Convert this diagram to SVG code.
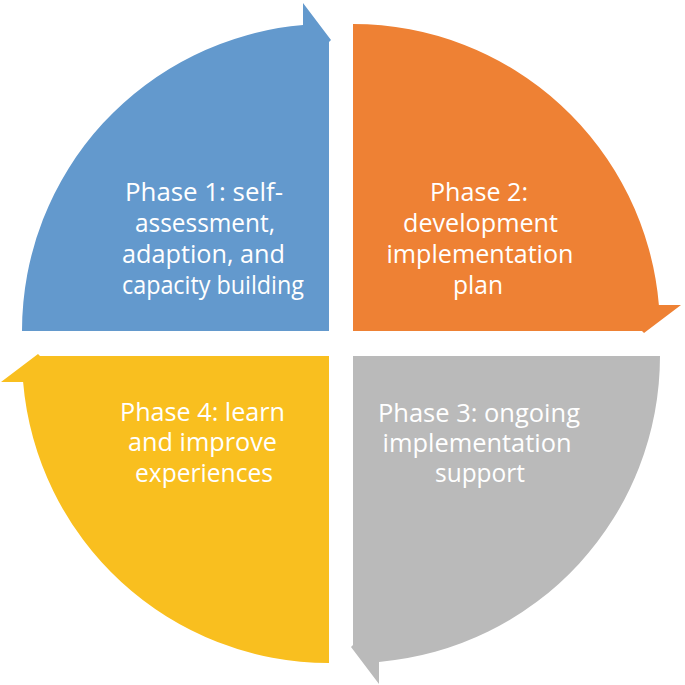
<svg xmlns="http://www.w3.org/2000/svg" xmlns:xlink="http://www.w3.org/1999/xlink" width="685" height="685" viewBox="0 0 685 685">
<style>
.lbl{font-family:"Open Sans","Noto Sans","Liberation Sans",sans-serif;font-size:25px;fill:#ffffff;text-anchor:middle}
</style>
<defs>
<path id="q" d="M0,0 L-307,0 A307,307 0 0 1 -26,-305.9 L-26,-328 L2,-291 L0,-289 Z"/>
</defs>
<rect width="685" height="685" fill="#ffffff"/>
<g id="phase1">
<use xlink:href="#q" href="#q" transform="translate(329,331)" fill="#6399CD"/>
<text class="lbl" x="204" y="201" textLength="158" lengthAdjust="spacingAndGlyphs">Phase 1: self-</text>
<text class="lbl" x="205" y="232" textLength="140" lengthAdjust="spacingAndGlyphs">assessment,</text>
<text class="lbl" x="203.5" y="263" textLength="163" lengthAdjust="spacingAndGlyphs">adaption, and</text>
<text class="lbl" x="213" y="294" textLength="182" lengthAdjust="spacingAndGlyphs">capacity building</text>
</g>
<g id="phase2">
<use xlink:href="#q" href="#q" transform="translate(353,331) rotate(90)" fill="#EE8134"/>
<text class="lbl" x="479" y="201" textLength="98" lengthAdjust="spacingAndGlyphs">Phase 2:</text>
<text class="lbl" x="480.5" y="232" textLength="155" lengthAdjust="spacingAndGlyphs">development</text>
<text class="lbl" x="480" y="263" textLength="187" lengthAdjust="spacingAndGlyphs">implementation</text>
<text class="lbl" x="478" y="294" textLength="50" lengthAdjust="spacingAndGlyphs">plan</text>
</g>
<g id="phase3">
<use xlink:href="#q" href="#q" transform="translate(353,356) rotate(180)" fill="#BABABA"/>
<text class="lbl" x="479" y="422" textLength="202" lengthAdjust="spacingAndGlyphs">Phase 3: ongoing</text>
<text class="lbl" x="477" y="452" textLength="189" lengthAdjust="spacingAndGlyphs">implementation</text>
<text class="lbl" x="480" y="482" textLength="90" lengthAdjust="spacingAndGlyphs">support</text>
</g>
<g id="phase4">
<use xlink:href="#q" href="#q" transform="translate(329,356) rotate(270)" fill="#F9BF1F"/>
<text class="lbl" x="202.5" y="421" textLength="165" lengthAdjust="spacingAndGlyphs">Phase 4: learn</text>
<text class="lbl" x="202.5" y="451" textLength="149" lengthAdjust="spacingAndGlyphs">and improve</text>
<text class="lbl" x="204" y="482" textLength="138" lengthAdjust="spacingAndGlyphs">experiences</text>
</g>
<g id="connectors"></g>
</svg>
